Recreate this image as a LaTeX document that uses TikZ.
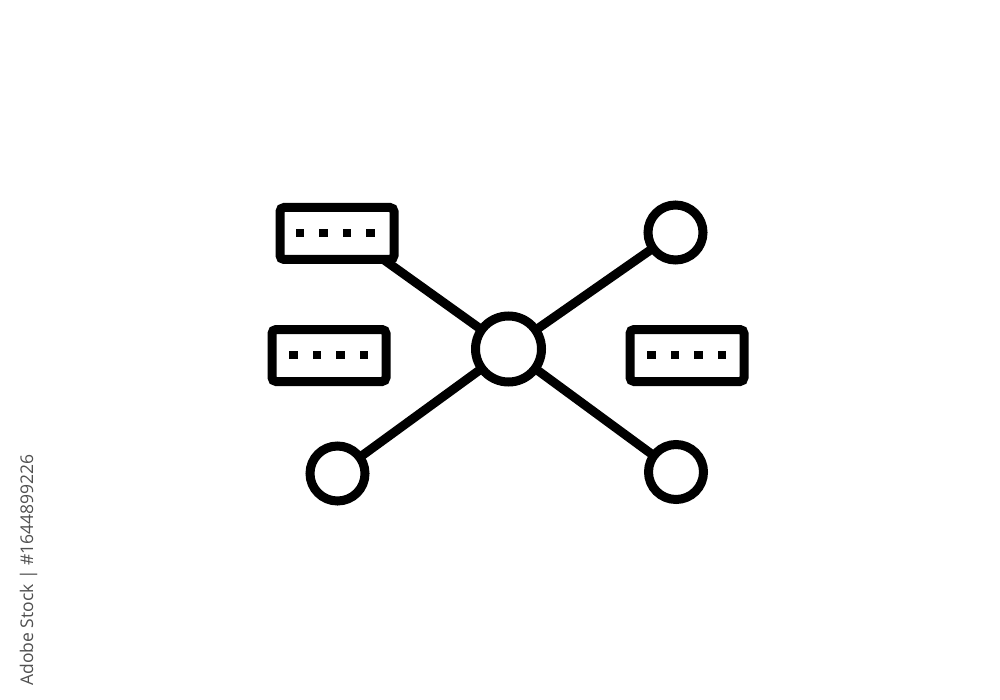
\documentclass[tikz,border=0pt]{standalone}
\usepackage{fontspec}
\usetikzlibrary{backgrounds}
\newfontfamily\wmfont{Open Sans}
\definecolor{ink}{RGB}{0,0,0}
\definecolor{wmgray}{RGB}{80,80,80}
\tikzset{
  hub/.style={circle, draw=ink, line width=9pt, fill=white, inner sep=0pt, minimum size=66pt},
  leaf/.style={circle, draw=ink, line width=9pt, fill=white, inner sep=0pt, minimum size=55pt},
  tag/.style={rectangle, draw=ink, line width=9pt, fill=white, rounded corners=4pt, inner sep=0pt, minimum width=114pt, minimum height=52pt},
  dot/.style={rectangle, fill=ink, inner sep=0pt, minimum size=8.5pt},
  link/.style={draw=ink, line width=9pt},
  stamp/.style={font=\wmfont\fontsize{17.5}{20}\selectfont, text=wmgray, rotate=90, inner sep=0pt}
}
\begin{document}
\begin{tikzpicture}[x=1pt,y=-1pt]
\begin{scope}[on background layer]
\fill[white] (0,0) rectangle (1000,700);
\end{scope}
\useasboundingbox (0,0) rectangle (1000,700);
% centre hub and round leaves
\node[hub] (c) at (508.5,349) {};
\node[leaf] (tr) at (675.5,232.5) {};
\node[leaf] (bl) at (337.5,473.5) {};
\node[leaf] (br) at (676,472) {};
% boxes
\node[tag] (b1) at (337,233.5) {};
\node[tag] (b2) at (329,355.5) {};
\node[tag] (b3) at (687,355.5) {};
\foreach \i/\x in {1/300,2/323.5,3/347,4/370.5} \node[dot] (d1\i) at (\x,233) {};
\foreach \i/\x in {1/293.5,2/317,3/340.5,4/364} \node[dot] (d2\i) at (\x,355) {};
\foreach \i/\x in {1/651.5,2/675,3/698.5,4/722} \node[dot] (d3\i) at (\x,355) {};
\coordinate (b1c) at (383.5,259.5);
% connectors behind the shapes
\begin{scope}[on background layer]
\draw[link] (c.center) -- (tr.center);
\draw[link] (c.center) -- (bl.center);
\draw[link] (c.center) -- (br.center);
\draw[link] (c.center) -- (b1c);
\end{scope}
% vertical stock text
\node[stamp, anchor=base] (wm) at (33,570) {Adobe Stock | \#1644899226};
\end{tikzpicture}
\end{document}
